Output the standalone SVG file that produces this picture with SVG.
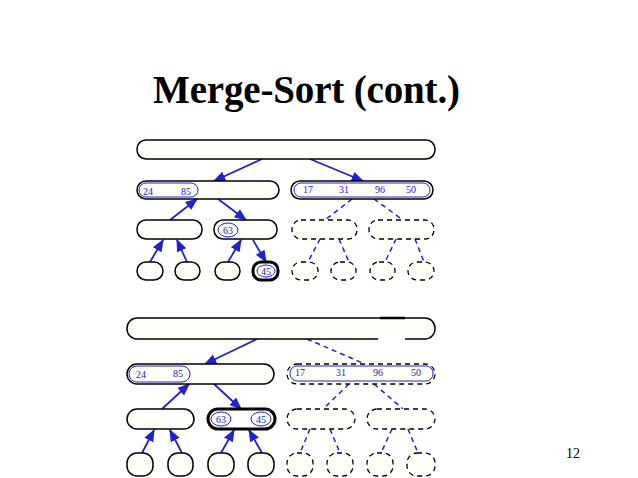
<svg xmlns="http://www.w3.org/2000/svg" width="638" height="478" viewBox="0 0 638 478">
<defs>
<marker id="ah" viewBox="0 0 10 10" refX="9" refY="5" markerWidth="7" markerHeight="7" orient="auto"><path d="M0,1 L10,5 L0,9 z" fill="#2222cc"/></marker>
<style>
.n{fill:#fffef8;stroke:#000;stroke-width:1.5}
.d{fill:#fffef8;stroke:#000;stroke-width:1.3;stroke-dasharray:5,4}
.t{fill:none;stroke:#000;stroke-width:3}
.in{fill:none;stroke:#2222cc;stroke-width:1}
.a{stroke:#2222cc;stroke-width:1.8;marker-end:url(#ah)}
.da{stroke:#2222cc;stroke-width:1.5;stroke-dasharray:5,4}
.v{font-family:"Liberation Serif",serif;font-size:10px;fill:#2222cc;text-anchor:middle}
</style>
</defs>
<rect width="638" height="478" fill="#fff"/>
<text x="153" y="103" font-family="Liberation Serif,serif" font-weight="bold" font-size="39" textLength="307">Merge-Sort (cont.)</text>
<text x="573" y="458" font-family="Liberation Serif,serif" font-size="14" text-anchor="middle">12</text>
<g id="connectors">
<line class="a" x1="262" y1="159" x2="214" y2="181"/>
<line class="a" x1="310" y1="159" x2="363" y2="181"/>
<line class="a" x1="170" y1="220" x2="197" y2="199"/>
<line class="a" x1="218" y1="199" x2="246" y2="220"/>
<line class="a" x1="150" y1="262" x2="163" y2="240"/>
<line class="a" x1="187" y1="262" x2="177" y2="240"/>
<line class="a" x1="228" y1="262" x2="241" y2="240"/>
<line class="a" x1="253" y1="240" x2="266" y2="262"/>
<line class="da" x1="352" y1="199" x2="325" y2="220"/>
<line class="da" x1="374" y1="199" x2="403" y2="220"/>
<line class="da" x1="320" y1="239" x2="308" y2="262"/>
<line class="da" x1="339" y1="239" x2="349" y2="262"/>
<line class="da" x1="396" y1="239" x2="385" y2="262"/>
<line class="da" x1="415" y1="239" x2="424" y2="262"/>
<line class="a" x1="257" y1="339" x2="205" y2="364"/>
<line class="da" x1="307" y1="339" x2="365" y2="364"/>
<line class="a" x1="162" y1="409" x2="189" y2="384"/>
<line class="a" x1="214" y1="384" x2="241" y2="409"/>
<line class="a" x1="142" y1="453" x2="154" y2="430"/>
<line class="a" x1="182" y1="453" x2="170" y2="430"/>
<line class="a" x1="221" y1="453" x2="234" y2="430"/>
<line class="a" x1="262" y1="453" x2="249" y2="430"/>
<line class="da" x1="349" y1="384" x2="323" y2="409"/>
<line class="da" x1="374" y1="384" x2="403" y2="409"/>
<line class="da" x1="310" y1="429" x2="300" y2="453"/>
<line class="da" x1="330" y1="429" x2="340" y2="453"/>
<line class="da" x1="392" y1="429" x2="381" y2="453"/>
<line class="da" x1="408" y1="429" x2="418" y2="453"/>
</g>
<g id="top-root"><rect class="n" x="137" y="140" width="298" height="19" rx="9"/></g>
<g id="top-l1a"><rect class="n" x="137" y="181" width="142" height="18" rx="9"/><rect class="in" x="139" y="183" width="59" height="14" rx="7"/><text class="v" x="148" y="195">24</text><text class="v" x="186" y="195">85</text></g>
<g id="top-l1b"><rect class="n" x="291" y="181" width="142" height="18" rx="9"/><rect class="in" x="294" y="183" width="136" height="14" rx="7"/><text class="v" x="308" y="193">17</text><text class="v" x="344" y="193">31</text><text class="v" x="380" y="193">96</text><text class="v" x="411" y="193">50</text></g>
<g id="top-l2a"><rect class="n" x="137" y="220" width="65" height="19" rx="9"/></g>
<g id="top-l2b"><rect class="n" x="214" y="220" width="63" height="19" rx="9"/><ellipse class="in" cx="228" cy="230" rx="10" ry="7"/><text class="v" x="228" y="234">63</text></g>
<g id="top-l2c"><rect class="d" x="292" y="220" width="65" height="19" rx="9"/></g>
<g id="top-l2d"><rect class="d" x="369" y="220" width="65" height="19" rx="9"/></g>
<g id="top-leaves">
<rect class="n" x="137" y="262" width="26" height="18" rx="9"/>
<rect class="n" x="175" y="262" width="25" height="18" rx="9"/>
<rect class="n" x="215" y="262" width="25" height="18" rx="9"/>
<rect class="t" x="253" y="262" width="25" height="18" rx="8" fill="#fffef8"/>
<ellipse class="in" cx="266" cy="271" rx="9" ry="6"/><text class="v" x="266" y="275">45</text>
<rect class="d" x="292" y="262" width="26" height="18" rx="9"/>
<rect class="d" x="331" y="262" width="25" height="18" rx="9"/>
<rect class="d" x="370" y="262" width="25" height="18" rx="9"/>
<rect class="d" x="408" y="262" width="26" height="18" rx="9"/>
</g>
<g id="bot-root"><rect class="n" x="127" y="318" width="308" height="21" rx="10"/><rect x="378" y="336" width="27" height="5" fill="#fff"/><line x1="380" y1="318" x2="405" y2="318" stroke="#000" stroke-width="2.5"/></g>
<g id="bot-l1a"><rect class="n" x="127" y="364" width="147" height="20" rx="10"/><rect class="in" x="129" y="366" width="61" height="16" rx="8"/><text class="v" x="141" y="378">24</text><text class="v" x="178" y="377">85</text></g>
<g id="bot-l1b"><rect class="d" x="287" y="364" width="148" height="20" rx="10"/><rect class="in" x="290" y="366" width="143" height="15" rx="7"/><text class="v" x="300" y="376">17</text><text class="v" x="341" y="376">31</text><text class="v" x="378" y="376">96</text><text class="v" x="416" y="376">50</text></g>
<g id="bot-l2a"><rect class="n" x="127" y="409" width="67" height="20" rx="10"/></g>
<g id="bot-l2b"><rect class="t" x="208" y="409" width="67" height="20" rx="10" fill="#fffef8"/><ellipse class="in" cx="221" cy="419" rx="10" ry="7"/><text class="v" x="221" y="423">63</text><ellipse class="in" cx="261" cy="419" rx="10" ry="7"/><text class="v" x="261" y="423">45</text></g>
<g id="bot-l2c"><rect class="d" x="287" y="409" width="68" height="20" rx="10"/></g>
<g id="bot-l2d"><rect class="d" x="367" y="409" width="68" height="20" rx="10"/></g>
<g id="bot-leaves">
<rect class="n" x="127" y="453" width="26" height="23" rx="10"/>
<rect class="n" x="168" y="453" width="25" height="23" rx="10"/>
<rect class="n" x="208" y="453" width="26" height="23" rx="10"/>
<rect class="n" x="248" y="453" width="26" height="23" rx="10"/>
<rect class="d" x="287" y="453" width="26" height="23" rx="10"/>
<rect class="d" x="327" y="453" width="26" height="23" rx="10"/>
<rect class="d" x="367" y="453" width="26" height="23" rx="10"/>
<rect class="d" x="407" y="453" width="28" height="23" rx="10"/>
</g>
</svg>
